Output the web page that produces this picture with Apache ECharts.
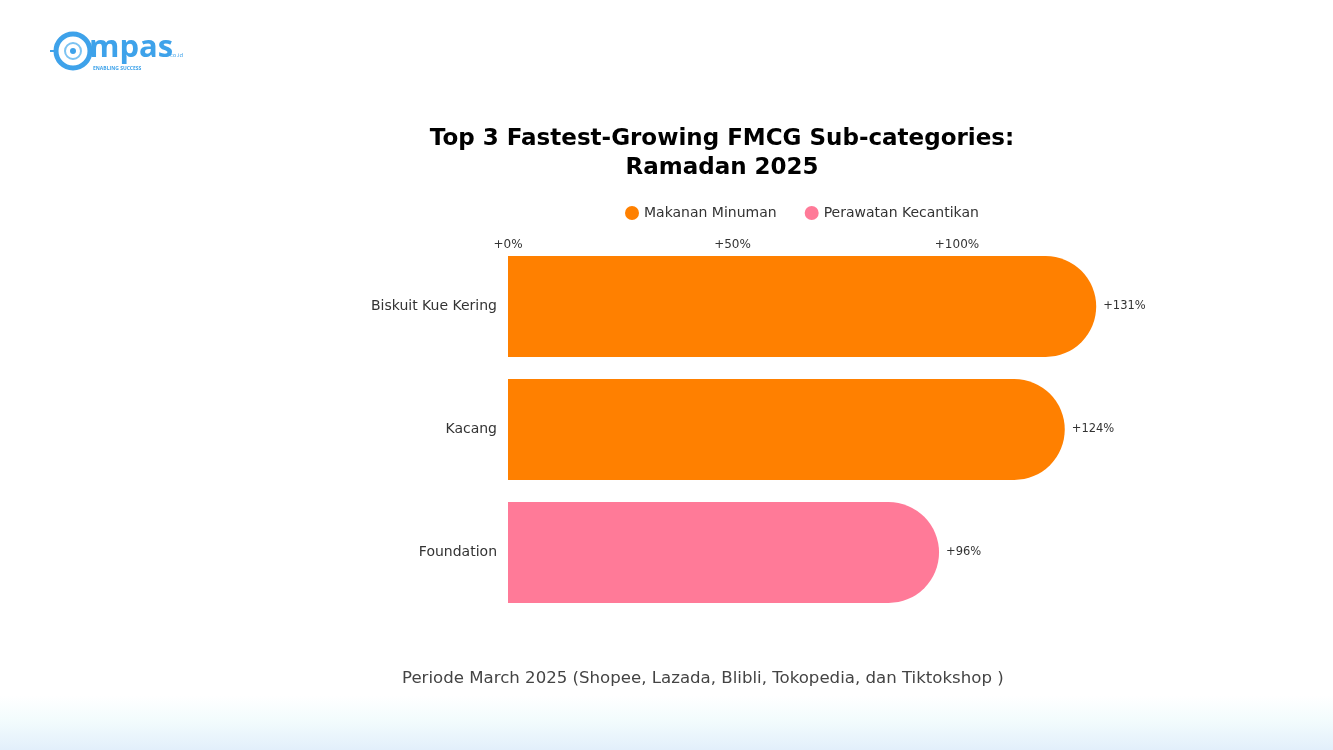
<!DOCTYPE html>
<html><head><meta charset="utf-8">
<script src="https://cdn.jsdelivr.net/npm/echarts@6/dist/echarts.min.js"></script>
<style>html,body{margin:0;padding:0;background:#fff}#c{width:1333px;height:750px}</style>
</head><body><div id="c"></div>
<script>
const categories = ['Biskuit Kue Kering', 'Kacang', 'Foundation'];
const makananMinuman = [131, 124, null];
const perawatanKecantikan = [null, null, 96];
const seriesNames = ['Makanan Minuman', 'Perawatan Kecantikan'];
const xTicks = [0, 50, 100];

const chart = echarts.init(document.getElementById('c'));
const font = '"DejaVu Sans", sans-serif';
const labelCfg = {
  show: true, position: 'right', distance: 7,
  formatter: p => '+' + p.value + '%',
  fontFamily: font, fontSize: 11.5, color: '#333'
};
chart.setOption({
  backgroundColor: '#fff',
  animation: false,
  title: {
    text: 'Top 3 Fastest-Growing FMCG Sub-categories:\nRamadan 2025',
    left: 717, top: 120, textAlign: 'center',
    textStyle: { fontFamily: font, fontWeight: 'bold', fontSize: 23, lineHeight: 29, color: '#000' }
  },
  legend: {
    data: seriesNames, top: 201, left: 620,
    icon: 'circle', itemWidth: 14, itemHeight: 14, itemGap: 28,
    textStyle: { fontFamily: font, fontSize: 14, color: '#333' }
  },
  grid: { left: 508, width: 673.5, top: 245, height: 369 },
  xAxis: {
    type: 'value', position: 'top', min: 0, max: 150, interval: 50,
    axisLabel: {
      margin: -6, fontFamily: font, fontSize: 12, color: '#333',
      formatter: v => xTicks.includes(v) ? '+' + v + '%' : ''
    },
    splitLine: { show: false }, axisLine: { show: false }, axisTick: { show: false }
  },
  yAxis: {
    type: 'category', data: categories, inverse: true,
    axisLabel: { margin: 11, fontFamily: font, fontSize: 14, color: '#333' },
    axisLine: { show: false }, axisTick: { show: false }
  },
  series: [
    { name: seriesNames[0], type: 'bar', stack: 't', data: makananMinuman, barCategoryGap: '18%',
      itemStyle: { color: '#FF8000', borderRadius: [0, 51, 51, 0] }, label: labelCfg },
    { name: seriesNames[1], type: 'bar', stack: 't', data: perawatanKecantikan, barCategoryGap: '18%',
      itemStyle: { color: '#FF7A98', borderRadius: [0, 51, 51, 0] }, label: labelCfg }
  ],
  graphic: [
    { type: 'rect', left: 0, top: 695, shape: { width: 1333, height: 55 }, silent: true, z: -10,
      style: { fill: new echarts.graphic.LinearGradient(0, 0, 0, 1, [
        { offset: 0, color: '#ffffff' }, { offset: 0.45, color: '#f3fcfd' }, { offset: 1, color: '#e2effb' }]) } },
    { type: 'text', left: 402, top: 670,
      style: { text: 'Periode March 2025 (Shopee, Lazada, Blibli, Tokopedia, dan Tiktokshop )',
        font: '16.6px "DejaVu Sans", sans-serif', fill: '#444' } },
    // logo
    { type: 'circle', shape: { cx: 73, cy: 51, r: 17 }, style: { fill: 'none', stroke: '#3ea2ea', lineWidth: 5 } },
    { type: 'circle', shape: { cx: 73, cy: 51, r: 8 }, style: { fill: 'none', stroke: '#7cc3f2', lineWidth: 2 } },
    { type: 'circle', shape: { cx: 73, cy: 51, r: 3 }, style: { fill: '#3ea2ea' } },
    { type: 'line', shape: { x1: 50, y1: 51, x2: 56, y2: 51 }, style: { stroke: '#3ea2ea', lineWidth: 2 } },
    { type: 'text', left: 89, top: 33,
      style: { text: 'mpas', font: 'bold 31px "Open Sans", sans-serif', fill: '#3ea2ea' } },
    { type: 'text', left: 170, top: 52,
      style: { text: 'co.id', font: '6px "Open Sans", sans-serif', fill: '#3ea2ea' } },
    { type: 'text', left: 93, top: 66,
      style: { text: 'ENABLING SUCCESS', font: 'bold 5px "Open Sans", sans-serif', fill: '#3ea2ea' } }
  ]
});
</script></body></html>
